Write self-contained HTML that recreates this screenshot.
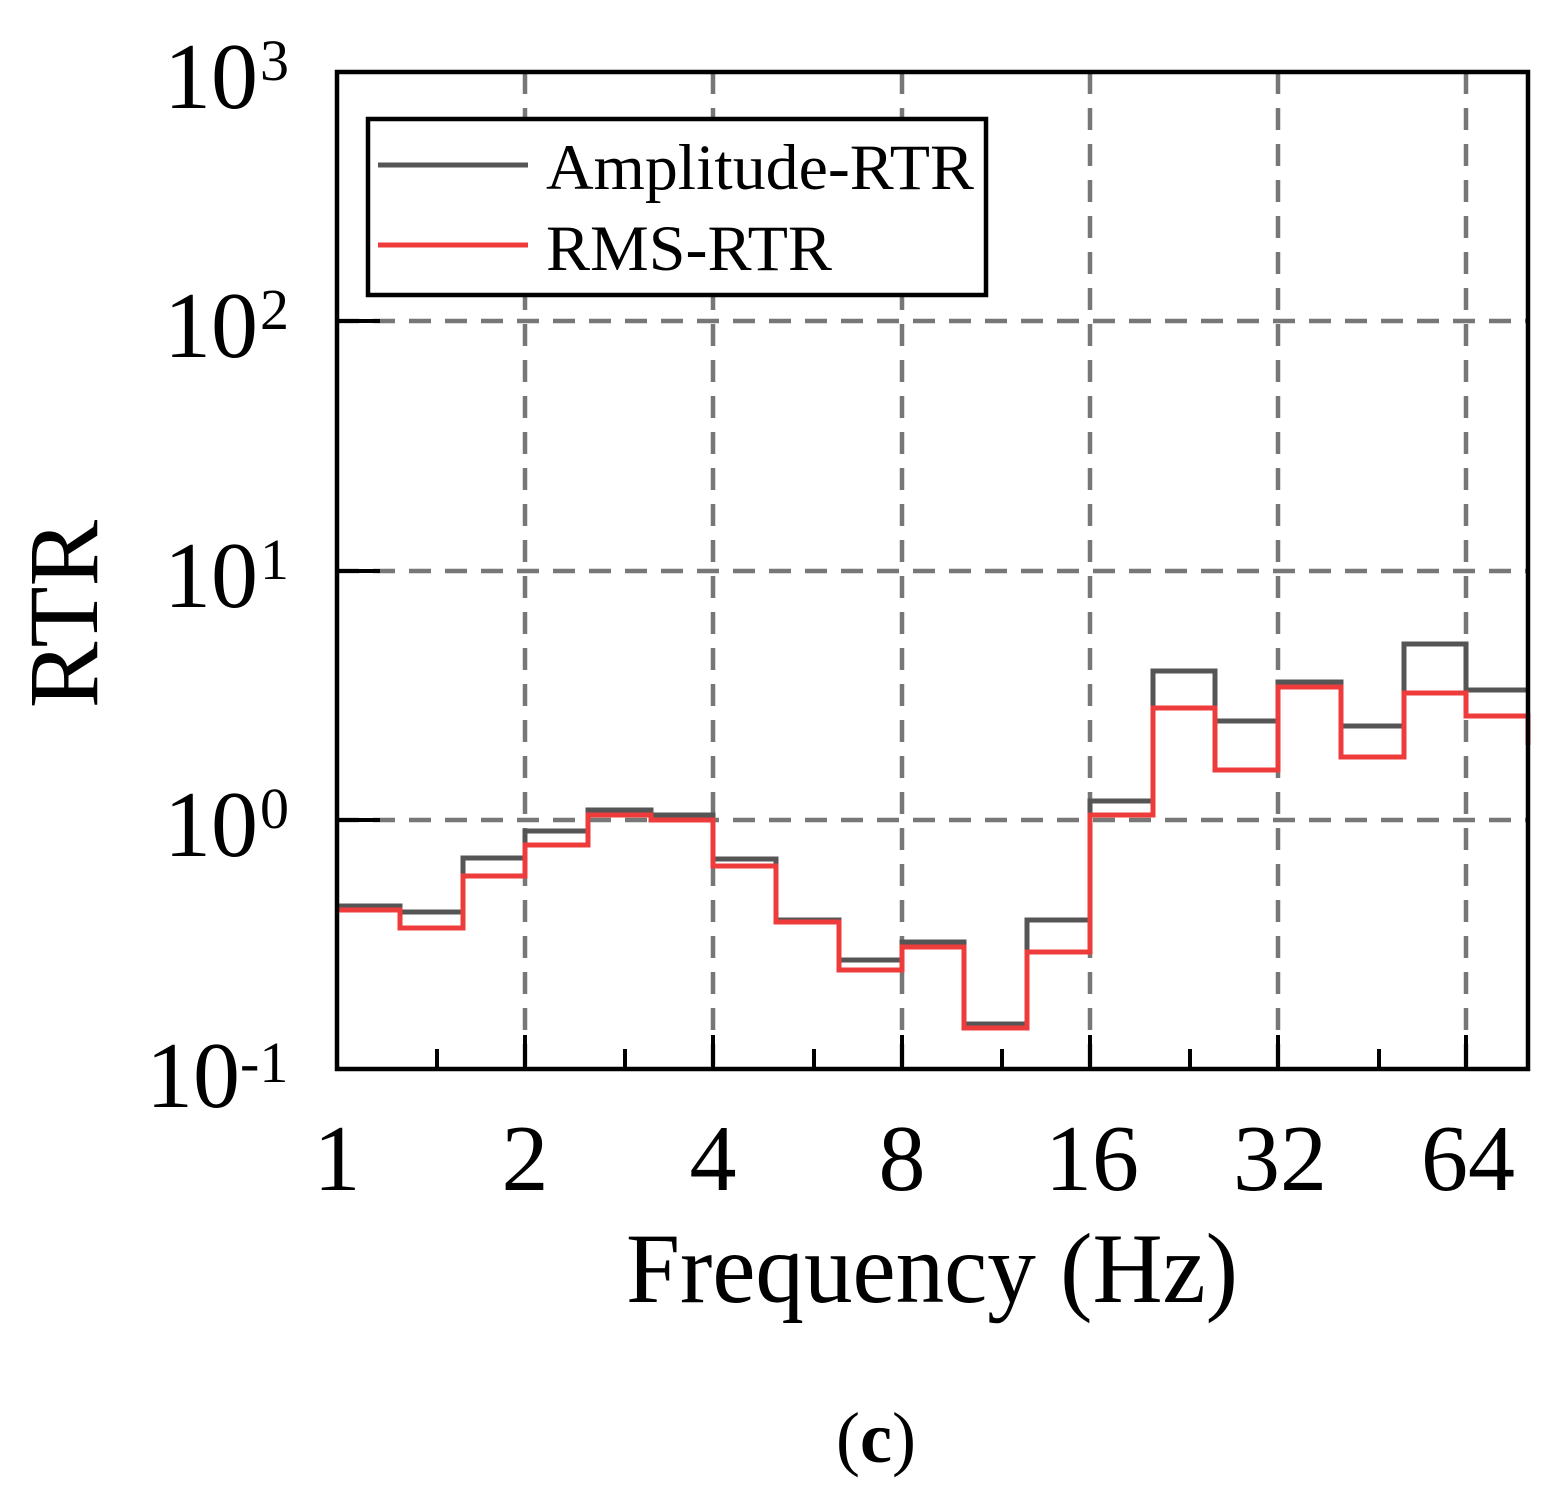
<!DOCTYPE html>
<html><head><meta charset="utf-8"><style>
html,body{margin:0;padding:0;background:#fff}
</style></head><body>
<svg width="1563" height="1498" viewBox="0 0 1563 1498" xmlns="http://www.w3.org/2000/svg" font-family="Liberation Serif, serif">
<g stroke="#777" stroke-width="4.5" stroke-dasharray="22,14">
<line x1="525" y1="72" x2="525" y2="1069"/>
<line x1="713" y1="72" x2="713" y2="1069"/>
<line x1="902" y1="72" x2="902" y2="1069"/>
<line x1="1090" y1="72" x2="1090" y2="1069"/>
<line x1="1278" y1="72" x2="1278" y2="1069"/>
<line x1="1466" y1="72" x2="1466" y2="1069"/>
<line x1="337" y1="321" x2="1528" y2="321"/>
<line x1="337" y1="571" x2="1528" y2="571"/>
<line x1="337" y1="820" x2="1528" y2="820"/>
</g>
<g stroke="#000" stroke-width="4">
<line x1="337" y1="321" x2="380" y2="321"/><line x1="337" y1="571" x2="380" y2="571"/><line x1="337" y1="820" x2="380" y2="820"/>
<line x1="437" y1="1069" x2="437" y2="1049"/><line x1="525" y1="1069" x2="525" y2="1035"/>
<line x1="625" y1="1069" x2="625" y2="1049"/><line x1="713" y1="1069" x2="713" y2="1035"/>
<line x1="814" y1="1069" x2="814" y2="1049"/><line x1="902" y1="1069" x2="902" y2="1035"/>
<line x1="1002" y1="1069" x2="1002" y2="1049"/><line x1="1090" y1="1069" x2="1090" y2="1035"/>
<line x1="1190" y1="1069" x2="1190" y2="1049"/><line x1="1278" y1="1069" x2="1278" y2="1035"/>
<line x1="1379" y1="1069" x2="1379" y2="1049"/><line x1="1466" y1="1069" x2="1466" y2="1035"/>
</g>
<path fill="none" stroke="#555" stroke-width="5" d="M337 906H400V912H463V858H525V831H588V810H651V815H713V859H776V920H839V960H902V942H964V1024H1027V920H1090V801H1153V671H1215V721H1278V682H1341V726H1404V644H1466V690H1528"/>
<path fill="none" stroke="#ee3b3b" stroke-width="5" d="M337 910H400V928H463V876H525V845H588V815H651V820H713V866H776V922H839V970H902V947H964V1028H1027V952H1090V815H1153V708H1215V770H1278V687H1341V757H1404V693H1466V716H1528V745"/>
<rect x="337" y="72" width="1191" height="997" fill="none" stroke="#000" stroke-width="4.5"/>
<rect x="368" y="119" width="618" height="176" fill="#fff" stroke="#000" stroke-width="4.5"/>
<line x1="378" y1="165" x2="528" y2="165" stroke="#555" stroke-width="5"/>
<line x1="378" y1="245" x2="528" y2="245" stroke="#ee3b3b" stroke-width="5"/>
<g font-size="65" fill="#000">
<text x="546" y="189" textLength="428" lengthAdjust="spacingAndGlyphs">Amplitude-RTR</text>
<text x="546" y="270" textLength="286" lengthAdjust="spacingAndGlyphs">RMS-RTR</text>
</g>
<g font-size="94" fill="#000" text-anchor="end">
<text x="258" y="108">10</text><text x="258" y="357">10</text><text x="258" y="607">10</text><text x="258" y="856">10</text><text x="240" y="1107">10</text>
</g>
<g font-size="58" fill="#000">
<text x="260" y="80">3</text><text x="260" y="329">2</text><text x="260" y="579">1</text><text x="260" y="828">0</text><text x="240" y="1082">-1</text>
</g>
<g font-size="94" fill="#000" text-anchor="middle">
<text x="337" y="1190">1</text><text x="525" y="1190">2</text><text x="713" y="1190">4</text><text x="902" y="1190">8</text><text x="1092" y="1190">16</text><text x="1280" y="1190">32</text><text x="1468" y="1190">64</text>
<text x="932" y="1302" font-size="100" textLength="612" lengthAdjust="spacingAndGlyphs">Frequency (Hz)</text>
<text x="876" y="1462" font-size="72">(<tspan font-weight="bold">c</tspan>)</text>
<text transform="translate(97,614) rotate(-90)" font-size="100">RTR</text>
</g>
</svg>
</body></html>
